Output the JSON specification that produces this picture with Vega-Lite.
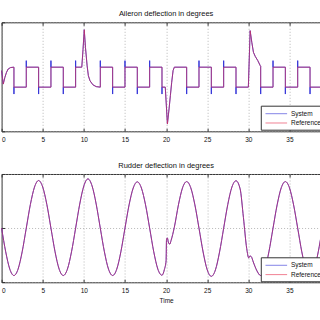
{
  "$schema": "https://vega.github.io/schema/vega-lite/v6.json",
  "padding": {"left": -1.4, "top": 9.3, "right": 0, "bottom": 0},
  "background": "white",
  "spacing": 42.7,
  "bounds": "flush",
  "resolve": {"scale": {"color": "independent"}, "legend": {"color": "independent"}},
  "config": {
    "font": "Liberation Sans",
    "view": {"stroke": "#333", "strokeWidth": 1},
    "axis": {
      "domain": false,
      "tickSize": -3,
      "tickColor": "#333",
      "labelFont": "Liberation Sans",
      "labelFontSize": 6.5,
      "labelColor": "#111",
      "labelPadding": 8.5,
      "gridColor": "#999",
      "gridDash": [1, 2],
      "gridOpacity": 0.7,
      "titleFont": "Liberation Sans",
      "titleFontWeight": "normal",
      "titleFontSize": 6.5,
      "titleColor": "#111"
    },
    "legend": {
      "orient": "none",
      "title": null,
      "strokeColor": "#333",
      "fillColor": "white",
      "padding": 2.5,
      "symbolType": "M-0.66,0H3.66",
      "symbolSize": 100,
      "symbolStrokeWidth": 1,
      "labelOffset": 16.7,
      "labelFont": "Liberation Sans",
      "labelFontSize": 6.5,
      "labelColor": "#111",
      "rowPadding": 0.3,
      "cornerRadius": 0
    },
    "title": {"font": "Liberation Sans", "fontSize": 7.5, "fontWeight": "normal", "color": "#111", "offset": 4.4}
  },
  "vconcat": [
    {
      "width": 329,
      "height": 109,
      "title": "Aileron deflection in degrees",
      "data": {"values": [
        {"s":"System","t":0,"v":3.4},{"s":"System","t":0.2,"v":-4.0},{"s":"System","t":0.4,"v":-0.3},{"s":"System","t":0.6,"v":2.5},{"s":"System","t":0.8,"v":4.3},{"s":"System","t":1.1,"v":5.1},
        {"s":"System","t":1.5,"v":5.3},{"s":"System","t":1.5,"v":-9.5},{"s":"System","t":1.5,"v":-5.7},
        {"s":"System","t":3,"v":-5.7},{"s":"System","t":3,"v":8.9},{"s":"System","t":3,"v":5.3},
        {"s":"System","t":4.5,"v":5.3},{"s":"System","t":4.5,"v":-9.5},{"s":"System","t":4.5,"v":-5.7},
        {"s":"System","t":6,"v":-5.7},{"s":"System","t":6,"v":8.9},{"s":"System","t":6,"v":5.3},
        {"s":"System","t":7.5,"v":5.3},{"s":"System","t":7.5,"v":-9.5},{"s":"System","t":7.5,"v":-5.7},
        {"s":"System","t":9,"v":-5.7},{"s":"System","t":9,"v":8.9},{"s":"System","t":9,"v":5.3},
        {"s":"System","t":9.75,"v":5.3},{"s":"System","t":9.9,"v":15},{"s":"System","t":10.05,"v":25.9},{"s":"System","t":10.2,"v":16},{"s":"System","t":10.4,"v":6},{"s":"System","t":10.55,"v":0.6},{"s":"System","t":10.75,"v":-2.2},{"s":"System","t":11.1,"v":-4.4},{"s":"System","t":11.5,"v":-5.4},
        {"s":"System","t":12,"v":-5.7},{"s":"System","t":12,"v":8.9},{"s":"System","t":12,"v":5.3},
        {"s":"System","t":13.5,"v":5.3},{"s":"System","t":13.5,"v":-9.5},{"s":"System","t":13.5,"v":-5.7},
        {"s":"System","t":15,"v":-5.7},{"s":"System","t":15,"v":8.9},{"s":"System","t":15,"v":5.3},
        {"s":"System","t":16.5,"v":5.3},{"s":"System","t":16.5,"v":-9.5},{"s":"System","t":16.5,"v":-5.7},
        {"s":"System","t":18,"v":-5.7},{"s":"System","t":18,"v":8.9},{"s":"System","t":18,"v":5.3},
        {"s":"System","t":19.5,"v":5.3},{"s":"System","t":19.5,"v":-9.5},{"s":"System","t":19.5,"v":-5.7},
        {"s":"System","t":19.9,"v":-5.7},{"s":"System","t":20.16,"v":-26},{"s":"System","t":20.36,"v":-17.7},{"s":"System","t":20.52,"v":-10.4},{"s":"System","t":20.68,"v":-3},{"s":"System","t":20.85,"v":3.4},{"s":"System","t":21,"v":5.3},
        {"s":"System","t":22.5,"v":5.3},{"s":"System","t":22.5,"v":-9.5},{"s":"System","t":22.5,"v":-5.7},
        {"s":"System","t":24,"v":-5.7},{"s":"System","t":24,"v":8.9},{"s":"System","t":24,"v":5.3},
        {"s":"System","t":25.5,"v":5.3},{"s":"System","t":25.5,"v":-9.5},{"s":"System","t":25.5,"v":-5.7},
        {"s":"System","t":27,"v":-5.7},{"s":"System","t":27,"v":8.9},{"s":"System","t":27,"v":5.3},
        {"s":"System","t":28.5,"v":5.3},{"s":"System","t":28.5,"v":-9.5},{"s":"System","t":28.5,"v":-5.7},
        {"s":"System","t":30,"v":-5.7},{"s":"System","t":30.22,"v":25.4},{"s":"System","t":30.42,"v":19},{"s":"System","t":30.62,"v":13.5},{"s":"System","t":30.83,"v":11.3},{"s":"System","t":31.15,"v":8.9},{"s":"System","t":31.45,"v":6.1},
        {"s":"System","t":31.5,"v":5.8},{"s":"System","t":31.5,"v":-9.5},{"s":"System","t":31.5,"v":-5.7},
        {"s":"System","t":33,"v":-5.7},{"s":"System","t":33,"v":8.9},{"s":"System","t":33,"v":5.3},
        {"s":"System","t":34.5,"v":5.3},{"s":"System","t":34.5,"v":-9.5},{"s":"System","t":34.5,"v":-5.7},
        {"s":"System","t":36,"v":-5.7},{"s":"System","t":36,"v":8.9},{"s":"System","t":36,"v":5.3},
        {"s":"System","t":37.5,"v":5.3},{"s":"System","t":37.5,"v":-9.5},{"s":"System","t":37.5,"v":-5.7},
        {"s":"System","t":39,"v":-5.7},{"s":"System","t":39,"v":8.9},{"s":"System","t":39,"v":5.3},
        {"s":"System","t":40,"v":5.3},

        {"s":"Reference","t":0,"v":3.4},{"s":"Reference","t":0.2,"v":-4.0},{"s":"Reference","t":0.4,"v":-0.3},{"s":"Reference","t":0.6,"v":2.5},{"s":"Reference","t":0.8,"v":4.3},{"s":"Reference","t":1.1,"v":5.1},
        {"s":"Reference","t":1.5,"v":5.3},{"s":"Reference","t":1.5,"v":-5.7},
        {"s":"Reference","t":3,"v":-5.7},{"s":"Reference","t":3,"v":5.3},
        {"s":"Reference","t":4.5,"v":5.3},{"s":"Reference","t":4.5,"v":-5.7},
        {"s":"Reference","t":6,"v":-5.7},{"s":"Reference","t":6,"v":5.3},
        {"s":"Reference","t":7.5,"v":5.3},{"s":"Reference","t":7.5,"v":-5.7},
        {"s":"Reference","t":9,"v":-5.7},{"s":"Reference","t":9,"v":5.3},
        {"s":"Reference","t":9.75,"v":5.3},{"s":"Reference","t":9.9,"v":15},{"s":"Reference","t":10.05,"v":25.9},{"s":"Reference","t":10.2,"v":16},{"s":"Reference","t":10.4,"v":6},{"s":"Reference","t":10.55,"v":0.6},{"s":"Reference","t":10.75,"v":-2.2},{"s":"Reference","t":11.1,"v":-4.4},{"s":"Reference","t":11.5,"v":-5.4},
        {"s":"Reference","t":12,"v":-5.7},{"s":"Reference","t":12,"v":5.3},
        {"s":"Reference","t":13.5,"v":5.3},{"s":"Reference","t":13.5,"v":-5.7},
        {"s":"Reference","t":15,"v":-5.7},{"s":"Reference","t":15,"v":5.3},
        {"s":"Reference","t":16.5,"v":5.3},{"s":"Reference","t":16.5,"v":-5.7},
        {"s":"Reference","t":18,"v":-5.7},{"s":"Reference","t":18,"v":5.3},
        {"s":"Reference","t":19.5,"v":5.3},{"s":"Reference","t":19.5,"v":-5.7},
        {"s":"Reference","t":19.9,"v":-5.7},{"s":"Reference","t":20.16,"v":-26},{"s":"Reference","t":20.36,"v":-17.7},{"s":"Reference","t":20.52,"v":-10.4},{"s":"Reference","t":20.68,"v":-3},{"s":"Reference","t":20.85,"v":3.4},{"s":"Reference","t":21,"v":5.3},
        {"s":"Reference","t":22.5,"v":5.3},{"s":"Reference","t":22.5,"v":-5.7},
        {"s":"Reference","t":24,"v":-5.7},{"s":"Reference","t":24,"v":5.3},
        {"s":"Reference","t":25.5,"v":5.3},{"s":"Reference","t":25.5,"v":-5.7},
        {"s":"Reference","t":27,"v":-5.7},{"s":"Reference","t":27,"v":5.3},
        {"s":"Reference","t":28.5,"v":5.3},{"s":"Reference","t":28.5,"v":-5.7},
        {"s":"Reference","t":30,"v":-5.7},{"s":"Reference","t":30.22,"v":25.4},{"s":"Reference","t":30.42,"v":19},{"s":"Reference","t":30.62,"v":13.5},{"s":"Reference","t":30.83,"v":11.3},{"s":"Reference","t":31.15,"v":8.9},{"s":"Reference","t":31.45,"v":6.1},
        {"s":"Reference","t":31.5,"v":5.8},{"s":"Reference","t":31.5,"v":-5.7},
        {"s":"Reference","t":33,"v":-5.7},{"s":"Reference","t":33,"v":5.3},
        {"s":"Reference","t":34.5,"v":5.3},{"s":"Reference","t":34.5,"v":-5.7},
        {"s":"Reference","t":36,"v":-5.7},{"s":"Reference","t":36,"v":5.3},
        {"s":"Reference","t":37.5,"v":5.3},{"s":"Reference","t":37.5,"v":-5.7},
        {"s":"Reference","t":39,"v":-5.7},{"s":"Reference","t":39,"v":5.3},
        {"s":"Reference","t":40,"v":5.3}
      ]},
      "encoding": {
        "x": {"field": "t", "type": "quantitative", "scale": {"domain": [0, 40], "nice": false}},
        "y": {"field": "v", "type": "quantitative", "scale": {"domain": [-30, 30], "nice": false}},
        "color": {"field": "s", "type": "nominal", "scale": {"domain": ["System", "Reference"], "range": ["#3434d8", "#e8304e"]}, "legend": {"legendX": 259.2, "legendY": 83.4}},
        "order": {"value": null}
      },
      "layer": [
        {
          "transform": [{"filter": "datum.s == 'System'"}],
          "mark": {"type": "line", "strokeWidth": 1, "interpolate": "linear"},
          "encoding": {
            "x": {"field": "t", "type": "quantitative", "axis": {"values": [0,5,10,15,20,25,30,35], "title": null, "grid": true, "orient": "bottom"}},
            "y": {"field": "v", "type": "quantitative", "axis": {"values": [-30,-20,-10,0,10,20,30], "labels": false, "title": null, "grid": true}}
          }
        },
        {
          "transform": [{"filter": "datum.s == 'Reference'"}],
          "mark": {"type": "line", "strokeWidth": 1, "interpolate": "linear", "opacity": 0.6},
          "encoding": {
            "x": {"field": "t", "type": "quantitative", "axis": {"values": [0,5,10,15,20,25,30,35], "title": null, "grid": false, "labels": false, "orient": "top"}}
          }
        }
      ],
      "resolve": {"axis": {"x": "independent"}}
    },
    {
      "width": 329,
      "height": 108.3,
      "title": "Rudder deflection in degrees",
      "data": {"values": [
        {"s":"System","t":0,"v":0},{"s":"System","t":0.5,"v":-8.75},{"s":"System","t":1,"v":-15.16},{"s":"System","t":1.5,"v":-17.5},{"s":"System","t":2,"v":-15.16},{"s":"System","t":2.5,"v":-8.75},{"s":"System","t":3,"v":0},{"s":"System","t":3.5,"v":8.75},{"s":"System","t":4,"v":15.16},{"s":"System","t":4.5,"v":17.6},{"s":"System","t":5,"v":15.16},{"s":"System","t":5.5,"v":8.75},
        {"s":"System","t":6,"v":0},{"s":"System","t":6.5,"v":-8.75},{"s":"System","t":7,"v":-15.16},{"s":"System","t":7.5,"v":-17.5},{"s":"System","t":8,"v":-15.16},{"s":"System","t":8.5,"v":-8.75},{"s":"System","t":9,"v":0},{"s":"System","t":9.5,"v":8.9},{"s":"System","t":10,"v":15.6},{"s":"System","t":10.5,"v":18.2},{"s":"System","t":11,"v":15.6},{"s":"System","t":11.5,"v":8.9},
        {"s":"System","t":12,"v":0},{"s":"System","t":12.5,"v":-8.75},{"s":"System","t":13,"v":-15.16},{"s":"System","t":13.5,"v":-17.5},{"s":"System","t":14,"v":-15.16},{"s":"System","t":14.5,"v":-8.75},{"s":"System","t":15,"v":0},{"s":"System","t":15.5,"v":8.6},{"s":"System","t":16,"v":14.8},{"s":"System","t":16.5,"v":17.1},{"s":"System","t":17,"v":14.8},{"s":"System","t":17.5,"v":8.6},
        {"s":"System","t":18,"v":0},{"s":"System","t":18.5,"v":-8.75},{"s":"System","t":19,"v":-15.16},{"s":"System","t":19.5,"v":-17.4},{"s":"System","t":19.8,"v":-15.2},{"s":"System","t":20,"v":-12},{"s":"System","t":20.05,"v":-4.2},{"s":"System","t":20.15,"v":-3.6},{"s":"System","t":20.3,"v":-5.5},{"s":"System","t":20.45,"v":-5.9},{"s":"System","t":20.6,"v":-4.6},{"s":"System","t":21,"v":0.3},{"s":"System","t":21.5,"v":8.6},
        {"s":"System","t":22,"v":14.9},{"s":"System","t":22.5,"v":17.2},{"s":"System","t":23,"v":14.9},{"s":"System","t":23.5,"v":8.6},{"s":"System","t":24,"v":0},{"s":"System","t":24.5,"v":-8.8},{"s":"System","t":25,"v":-15.4},{"s":"System","t":25.5,"v":-17.8},{"s":"System","t":26,"v":-15.4},{"s":"System","t":26.5,"v":-8.8},{"s":"System","t":27,"v":0},{"s":"System","t":27.5,"v":8.75},
        {"s":"System","t":28,"v":15.16},{"s":"System","t":28.5,"v":17.5},{"s":"System","t":29,"v":14.5},{"s":"System","t":29.4,"v":4},{"s":"System","t":29.8,"v":-7.5},{"s":"System","t":30.05,"v":-11},{"s":"System","t":30.2,"v":-10.3},{"s":"System","t":30.35,"v":-10.5},{"s":"System","t":30.6,"v":-12.5},{"s":"System","t":31,"v":-15.5},{"s":"System","t":31.5,"v":-17.5},
        {"s":"System","t":32,"v":-15.16},{"s":"System","t":32.5,"v":-8.75},{"s":"System","t":33,"v":0},{"s":"System","t":33.5,"v":8.6},{"s":"System","t":34,"v":14.9},{"s":"System","t":34.5,"v":17.2},{"s":"System","t":35,"v":14.9},{"s":"System","t":35.5,"v":8.6},{"s":"System","t":36,"v":0},{"s":"System","t":36.5,"v":-8.75},{"s":"System","t":37,"v":-15.16},{"s":"System","t":37.5,"v":-17.5},
        {"s":"System","t":38,"v":-15.16},{"s":"System","t":38.5,"v":-8.75},{"s":"System","t":39,"v":0},{"s":"System","t":39.5,"v":8.75},{"s":"System","t":40,"v":15.16},

        {"s":"Reference","t":0,"v":0},{"s":"Reference","t":0.5,"v":-8.75},{"s":"Reference","t":1,"v":-15.16},{"s":"Reference","t":1.5,"v":-17.5},{"s":"Reference","t":2,"v":-15.16},{"s":"Reference","t":2.5,"v":-8.75},{"s":"Reference","t":3,"v":0},{"s":"Reference","t":3.5,"v":8.75},{"s":"Reference","t":4,"v":15.16},{"s":"Reference","t":4.5,"v":17.6},{"s":"Reference","t":5,"v":15.16},{"s":"Reference","t":5.5,"v":8.75},
        {"s":"Reference","t":6,"v":0},{"s":"Reference","t":6.5,"v":-8.75},{"s":"Reference","t":7,"v":-15.16},{"s":"Reference","t":7.5,"v":-17.5},{"s":"Reference","t":8,"v":-15.16},{"s":"Reference","t":8.5,"v":-8.75},{"s":"Reference","t":9,"v":0},{"s":"Reference","t":9.5,"v":8.9},{"s":"Reference","t":10,"v":15.6},{"s":"Reference","t":10.5,"v":18.2},{"s":"Reference","t":11,"v":15.6},{"s":"Reference","t":11.5,"v":8.9},
        {"s":"Reference","t":12,"v":0},{"s":"Reference","t":12.5,"v":-8.75},{"s":"Reference","t":13,"v":-15.16},{"s":"Reference","t":13.5,"v":-17.5},{"s":"Reference","t":14,"v":-15.16},{"s":"Reference","t":14.5,"v":-8.75},{"s":"Reference","t":15,"v":0},{"s":"Reference","t":15.5,"v":8.6},{"s":"Reference","t":16,"v":14.8},{"s":"Reference","t":16.5,"v":17.1},{"s":"Reference","t":17,"v":14.8},{"s":"Reference","t":17.5,"v":8.6},
        {"s":"Reference","t":18,"v":0},{"s":"Reference","t":18.5,"v":-8.75},{"s":"Reference","t":19,"v":-15.16},{"s":"Reference","t":19.5,"v":-17.4},{"s":"Reference","t":19.8,"v":-15.2},{"s":"Reference","t":20,"v":-12},{"s":"Reference","t":20.05,"v":-4.2},{"s":"Reference","t":20.15,"v":-3.6},{"s":"Reference","t":20.3,"v":-5.5},{"s":"Reference","t":20.45,"v":-5.9},{"s":"Reference","t":20.6,"v":-4.6},{"s":"Reference","t":21,"v":0.3},{"s":"Reference","t":21.5,"v":8.6},
        {"s":"Reference","t":22,"v":14.9},{"s":"Reference","t":22.5,"v":17.2},{"s":"Reference","t":23,"v":14.9},{"s":"Reference","t":23.5,"v":8.6},{"s":"Reference","t":24,"v":0},{"s":"Reference","t":24.5,"v":-8.8},{"s":"Reference","t":25,"v":-15.4},{"s":"Reference","t":25.5,"v":-17.8},{"s":"Reference","t":26,"v":-15.4},{"s":"Reference","t":26.5,"v":-8.8},{"s":"Reference","t":27,"v":0},{"s":"Reference","t":27.5,"v":8.75},
        {"s":"Reference","t":28,"v":15.16},{"s":"Reference","t":28.5,"v":17.5},{"s":"Reference","t":29,"v":14.5},{"s":"Reference","t":29.4,"v":4},{"s":"Reference","t":29.8,"v":-7.5},{"s":"Reference","t":30.05,"v":-11},{"s":"Reference","t":30.2,"v":-10.3},{"s":"Reference","t":30.35,"v":-10.5},{"s":"Reference","t":30.6,"v":-12.5},{"s":"Reference","t":31,"v":-15.5},{"s":"Reference","t":31.5,"v":-17.5},
        {"s":"Reference","t":32,"v":-15.16},{"s":"Reference","t":32.5,"v":-8.75},{"s":"Reference","t":33,"v":0},{"s":"Reference","t":33.5,"v":8.6},{"s":"Reference","t":34,"v":14.9},{"s":"Reference","t":34.5,"v":17.2},{"s":"Reference","t":35,"v":14.9},{"s":"Reference","t":35.5,"v":8.6},{"s":"Reference","t":36,"v":0},{"s":"Reference","t":36.5,"v":-8.75},{"s":"Reference","t":37,"v":-15.16},{"s":"Reference","t":37.5,"v":-17.5},
        {"s":"Reference","t":38,"v":-15.16},{"s":"Reference","t":38.5,"v":-8.75},{"s":"Reference","t":39,"v":0},{"s":"Reference","t":39.5,"v":8.75},{"s":"Reference","t":40,"v":15.16}
      ]},
      "encoding": {
        "x": {"field": "t", "type": "quantitative", "scale": {"domain": [0, 40], "nice": false}},
        "y": {"field": "v", "type": "quantitative", "scale": {"domain": [-20, 20], "nice": false}},
        "color": {"field": "s", "type": "nominal", "scale": {"domain": ["System", "Reference"], "range": ["#3434d8", "#e8304e"]}, "legend": {"legendX": 259.2, "legendY": 83.3}},
        "order": {"value": null}
      },
      "layer": [
        {
          "transform": [{"filter": "datum.s == 'System'"}],
          "mark": {"type": "line", "strokeWidth": 1, "interpolate": "monotone"},
          "encoding": {
            "x": {"field": "t", "type": "quantitative", "axis": {"values": [0,5,10,15,20,25,30,35], "title": "Time", "titlePadding": 3, "grid": true, "orient": "bottom"}},
            "y": {"field": "v", "type": "quantitative", "axis": {"values": [-20,-10,0,10,20], "labels": false, "title": null, "grid": true}}
          }
        },
        {
          "transform": [{"filter": "datum.s == 'Reference'"}],
          "mark": {"type": "line", "strokeWidth": 1, "interpolate": "monotone", "opacity": 0.6},
          "encoding": {
            "x": {"field": "t", "type": "quantitative", "axis": {"values": [0,5,10,15,20,25,30,35], "title": null, "grid": false, "labels": false, "orient": "top"}}
          }
        }
      ],
      "resolve": {"axis": {"x": "independent"}}
    }
  ]
}
